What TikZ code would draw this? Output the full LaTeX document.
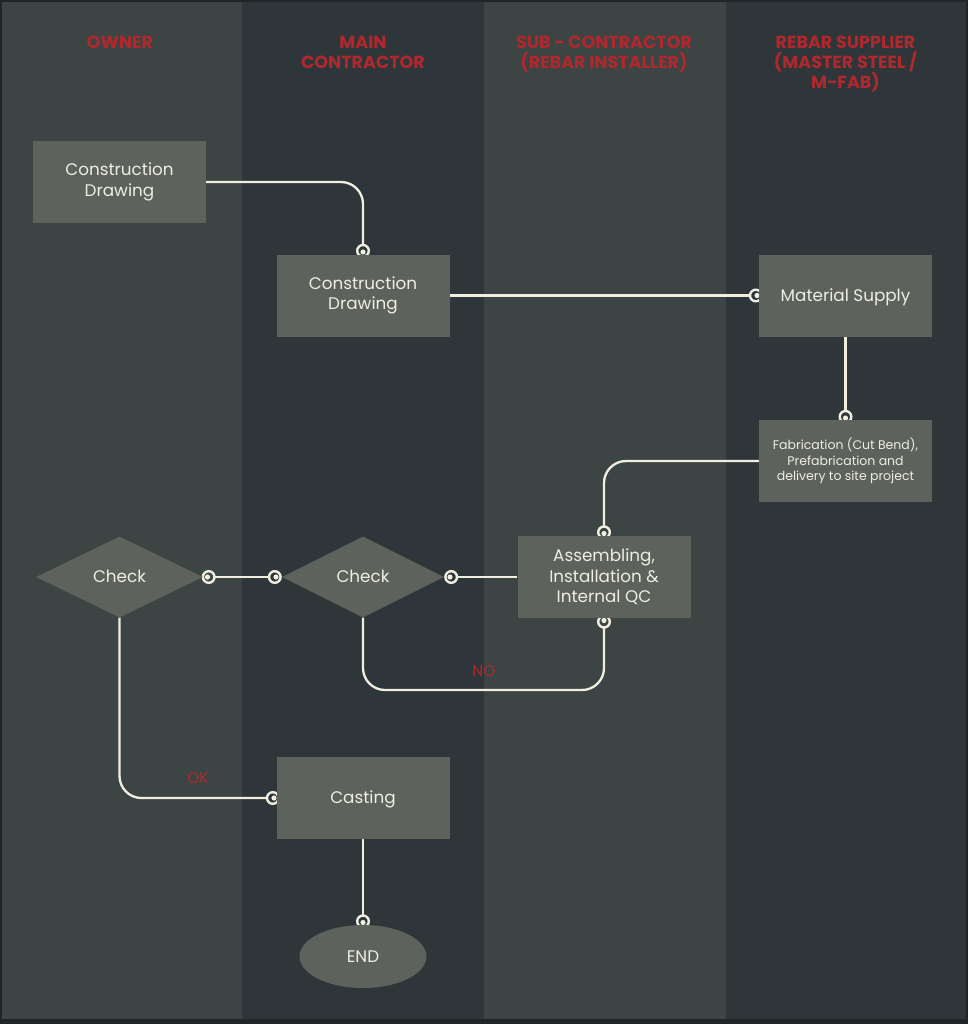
\documentclass[tikz,border=0pt]{standalone}
\usepackage{fontspec}
\setmainfont{Poppins}
\usetikzlibrary{shapes.geometric}
\definecolor{framec}{HTML}{1F2628}
\definecolor{laneA}{HTML}{3C4543}
\definecolor{laneB}{HTML}{2F3639}
\definecolor{boxc}{HTML}{5D625D}
\definecolor{cream}{HTML}{F0EDE1}
\definecolor{hred}{HTML}{B0282E}
\pgfdeclarelayer{lanes}
\pgfdeclarelayer{edges}
\pgfsetlayers{lanes,edges,main}
\tikzset{
  box/.style={rectangle, fill=boxc, minimum width=173pt, minimum height=82pt,
    text=cream, align=center, inner sep=2pt, font=\fontsize{16.8}{20.5}\selectfont},
  oneline/.style={text height=11.8pt, text depth=0pt},
  smallbox/.style={box, font=\fontsize{12.5}{15.5}\selectfont},
  dia/.style={diamond, fill=boxc, minimum width=162pt, minimum height=81pt,
    inner sep=0pt, text=cream, oneline, font=\fontsize{16.8}{20}\selectfont},
  endnode/.style={ellipse, fill=boxc, minimum width=127pt, minimum height=63pt,
    inner sep=0pt, text=cream, oneline, font=\fontsize{16.8}{20}\selectfont},
  hdr/.style={text=hred, align=center, anchor=north, inner sep=0pt,
    font=\bfseries\fontsize{17.5}{20}\selectfont},
  lbl/.style={text=hred, inner sep=0pt, font=\fontsize{15.5}{18}\selectfont},
  conn/.style={draw=cream, line width=2.3pt, rounded corners=22pt, shorten >=5.8pt},
  pics/ringmark/.style={code={
    \draw[cream, line width=2.4pt] (0,0) circle (5.8pt);
    \fill[cream] (#1:1.2pt) circle (2.6pt);}}
}
\begin{document}
\begin{tikzpicture}[x=1pt,y=-1pt]
\useasboundingbox (0,0) rectangle (968,1024);
\begin{pgfonlayer}{lanes}
  \fill[framec] (0,0) rectangle (968,1024);
  \fill[laneA] (2,2) rectangle (242,1019);
  \fill[laneB] (242,2) rectangle (484,1019);
  \fill[laneA] (484,2) rectangle (726,1019);
  \fill[laneB] (726,2) rectangle (966,1019);
\end{pgfonlayer}

% headers
\node[hdr] (h1) at (120,36) {OWNER};
\node[hdr] (h2) at (363,36) {MAIN\\CONTRACTOR};
\node[hdr] (h3) at (604,36) {SUB - CONTRACTOR\\(REBAR INSTALLER)};
\node[hdr] (h4) at (845.5,36) {REBAR SUPPLIER\\(MASTER STEEL /\\M-FAB)};

% nodes
\node[box] (cd1) at (119.5,182) {Construction\\Drawing};
\node[box] (cd2) at (363,295.5) {Construction\\Drawing};
\node[box, oneline] (ms) at (845.5,295.5) {Material Supply};
\node[smallbox] (fab) at (845.5,461) {Fabrication (Cut Bend),\\Prefabrication and\\delivery to site project};
\node[box] (asm) at (604,577) {Assembling,\\Installation \&\\Internal QC};
\node[dia] (ckm) at (363,577) {Check};
\node[dia, minimum width=167pt] (cko) at (119.5,577) {Check};
\node[box, oneline] (cast) at (363,798) {Casting};
\node[endnode] (end) at (363,956.5) {END};

% marker points
\coordinate (m1) at ([yshift=3.5pt]cd2.north);
\coordinate (m2) at ([xshift=-3pt]ms.west);
\coordinate (m3) at ([yshift=3pt]fab.north);
\coordinate (m4) at ([yshift=3.5pt]asm.north);
\coordinate (m5) at ([xshift=7pt]ckm.east);
\coordinate (m6a) at ([xshift=-7pt]ckm.west);
\coordinate (m6b) at ([xshift=5.5pt]cko.east);
\coordinate (m7) at ([yshift=-3.5pt]asm.south);
\coordinate (m8) at ([xshift=-3.5pt]cast.west);
\coordinate (m9) at ([yshift=3.5pt]end.north);
\coordinate (lowNO) at (484,690);

\begin{pgfonlayer}{edges}
  \draw[conn] (cd1.east) -- (cd1.east -| cd2.north) -- (m1);
  \draw[conn] (cd2.east) -- (m2);
  \draw[conn] (ms.south) -- (m3);
  \draw[conn] (fab.west) -- (fab.west -| asm.north) -- (m4);
  \draw[conn] (asm.west) -- (m5);
  \draw[conn, shorten <=5.8pt] (m6a) -- (m6b);
  \draw[conn] (ckm.south) -- (ckm.south |- lowNO) -- (asm.south |- lowNO) -- (m7);
  \draw[conn] (cko.south) |- (m8);
  \draw[conn] (cast.south) -- (m9);
  \pic at (m1) {ringmark=-90};
  \pic at (m2) {ringmark=0};
  \pic at (m3) {ringmark=-90};
  \pic at (m4) {ringmark=-90};
  \pic at (m5) {ringmark=180};
  \pic at (m6a) {ringmark=0};
  \pic at (m6b) {ringmark=180};
  \pic at (m7) {ringmark=90};
  \pic at (m8) {ringmark=0};
  \pic at (m9) {ringmark=-90};
\end{pgfonlayer}

% labels
\node[lbl] (no) at (484,671) {NO};
\node[lbl] (ok) at (198,778) {OK};
\end{tikzpicture}
\end{document}
